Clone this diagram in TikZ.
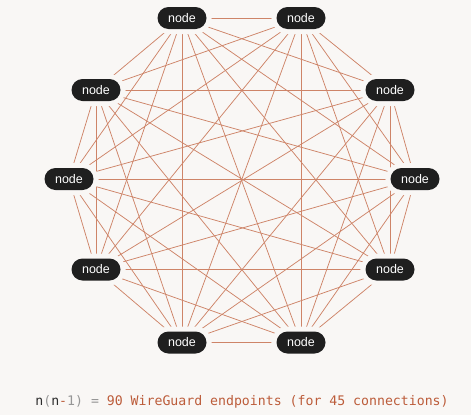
\documentclass[tikz,border=0pt]{standalone}
\usepackage{fontspec}
\setmainfont{Liberation Sans}
\newfontfamily\codefont{DejaVu Sans Mono}
\usetikzlibrary{backgrounds}
\definecolor{bg}{HTML}{F9F7F5}
\definecolor{edgecol}{RGB}{206,132,104}
\definecolor{nodefill}{HTML}{1F1F1F}
\definecolor{codeorange}{RGB}{188,92,58}
\definecolor{codegrey}{RGB}{150,150,150}
\definecolor{codedark}{RGB}{45,45,45}
\begin{document}
\begin{tikzpicture}[x=1pt,y=-1pt,
  peer/.style={fill=nodefill, text=white, rounded corners=11pt, minimum width=49pt, minimum height=22pt, inner sep=0pt, font=\fontsize{12.5}{13}\selectfont, preaction={draw=bg, line width=10pt}},
  link/.style={draw=edgecol, line width=0.75pt}]
\useasboundingbox (0,0) rectangle (474,418);
\foreach \i/\x/\y in {1/182/18, 2/301/18, 3/390/90, 4/415/179, 5/390/269.5, 6/301/342.5, 7/182/342.5, 8/96/269.5, 9/69/179, 10/96/90}
  \node[peer] (n\i) at (\x,\y) {node};
\begin{pgfonlayer}{background}
  \fill[white] (0,0) rectangle (474,418);
  \fill[bg] (0,0) rectangle (471,415);
  \foreach \i in {1,...,9}{
    \pgfmathtruncatemacro\s{\i+1}
    \foreach \j in {\s,...,10}
      \draw[link] (n\i.center) -- (n\j.center);
  }
\end{pgfonlayer}
\node[anchor=base, inner sep=0pt, font=\codefont\fontsize{13.2}{14}\selectfont] (formula) at (242,405)
  {{\color{codedark}n}{\color{codegrey}(}{\color{codedark}n}{\color{codeorange}-}{\color{codegrey}1)} {\color{codegrey}=} {\color{codeorange}90 WireGuard endpoints (for 45 connections)}};
\end{tikzpicture}
\end{document}
